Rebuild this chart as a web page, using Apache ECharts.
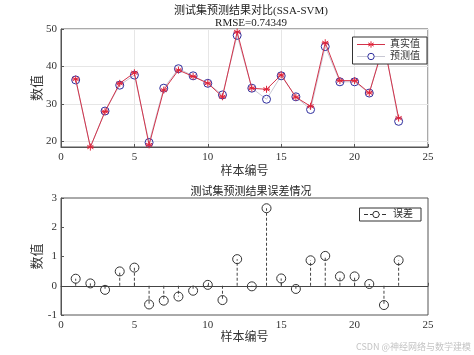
<!DOCTYPE html>
<html>
<head>
<meta charset="utf-8">
<script src="https://cdn.jsdelivr.net/npm/echarts@6/dist/echarts.min.js"></script>
<style>
  html, body { margin: 0; padding: 0; background: #fff; }
  #main { width: 474px; height: 355px; }
</style>
</head>
<body>
<div id="main"></div>
<script>
// 样本编号
var samples = [1, 2, 3, 4, 5, 6, 7, 8, 9, 10, 11, 12, 13, 14, 15, 16, 17, 18, 19, 20, 21, 22, 23]
// 真实值
var actual = [36.64, 18.48, 27.96, 35.49, 38.32, 19.06, 33.69, 39.03, 37.33, 35.53, 31.91, 49.21,
  34.18, 33.9, 37.75, 31.79, 29.37, 46.32, 36.22, 36.22, 32.96, 45.9, 26.22]
// 预测值
var predicted = [36.4, 18.4, 28.1, 35.0, 37.7, 19.7, 34.2, 39.4, 37.5, 35.5, 32.4, 48.3,
  34.2, 31.25, 37.5, 31.9, 28.5, 45.3, 35.9, 35.9, 32.9, 46.56, 25.35]
// 误差
var errors = [0.24, 0.08, -0.14, 0.49, 0.62, -0.64, -0.51, -0.37, -0.17, 0.03, -0.49, 0.91,
  -0.02, 2.65, 0.25, -0.11, 0.87, 1.02, 0.32, 0.32, 0.06, -0.66, 0.87]
var topYTicks = [20, 30, 40, 50]

var fontFamily = '"Liberation Serif", "Noto Sans CJK SC", serif'
var axisColor = '#555'

function pairs(vals) {
  return samples.map(function(s, i) { return [s, vals[i]] })
}

// 星号标记
var asterisk = 'path://M0,-10L0,10M-8.66,-5L8.66,5M-8.66,5L8.66,-5M-10,0L10,0'

function xAxisOf(idx) {
  return {
    type: 'value',
    gridIndex: idx,
    min: 0,
    max: 25,
    interval: 5,
    name: '样本编号',
    nameLocation: 'middle',
    nameGap: idx === 0 ? 19 : 17,
    nameTextStyle: { fontSize: 12, color: '#333', fontFamily: fontFamily },
    axisLine: { lineStyle: { color: axisColor } },
    axisTick: { inside: true, length: 3, lineStyle: { color: axisColor } },
    axisLabel: { fontSize: 11, color: '#333', margin: 5, fontFamily: fontFamily },
    splitLine: { show: idx === 0, lineStyle: { color: '#e6e6e6' } }
  }
}

function yNameStyle() {
  return { fontSize: 13, color: '#333', fontFamily: fontFamily }
}

var legendText = { fontSize: 10, lineHeight: 11, color: '#333', fontFamily: fontFamily }

var chart = echarts.init(document.getElementById('main'))
var option = {
  animation: false,
  backgroundColor: '#fff',
  textStyle: { fontFamily: fontFamily },
  title: [
    {
      text: '测试集预测结果对比(SSA-SVM)\nRMSE=0.74349',
      left: 246,
      textAlign: 'center',
      top: 0,
      textStyle: { fontSize: 11, fontWeight: 'normal', color: '#222', lineHeight: 12, fontFamily: fontFamily }
    },
    {
      text: '测试集预测结果误差情况',
      left: 246,
      textAlign: 'center',
      top: 182,
      textStyle: { fontSize: 11, fontWeight: 'normal', color: '#222', fontFamily: fontFamily }
    }
  ],
  legend: [
    {
      data: [
        { name: '真实值', itemStyle: { color: '#fff', borderColor: '#e0243a', borderWidth: 1 }, lineStyle: { width: 1, color: '#d2334a' } },
        { name: '预测值', itemStyle: { color: '#fff', borderColor: '#2e2e9e', borderWidth: 1 }, lineStyle: { width: 1, color: '#c8c8d4' } }
      ],
      orient: 'vertical',
      right: 47,
      top: 37,
      itemGap: 1,
      itemWidth: 28,
      itemHeight: 8,
      padding: [2, 7, 2, 4],
      borderColor: '#333',
      borderWidth: 1,
      borderRadius: 0,
      backgroundColor: '#fff',
      textStyle: legendText
    },
    {
      data: [{ name: '误差', itemStyle: { color: '#fff', borderColor: '#333', borderWidth: 1 }, lineStyle: { opacity: 1, type: 'dashed', color: '#333', width: 1 } }],
      right: 53,
      top: 208,
      itemWidth: 24,
      itemHeight: 8,
      padding: [1, 8, 1, 4],
      borderColor: '#333',
      borderWidth: 1,
      borderRadius: 0,
      backgroundColor: '#fff',
      textStyle: legendText
    }
  ],
  grid: [
    { left: 61, right: 46, top: 29, height: 118, show: true, borderColor: axisColor, borderWidth: 1 },
    { left: 61, right: 46, top: 198, height: 117, show: true, borderColor: axisColor, borderWidth: 1 }
  ],
  xAxis: [xAxisOf(0), xAxisOf(1)],
  yAxis: [
    {
      type: 'value',
      gridIndex: 0,
      min: 18.5,
      max: 50,
      name: '数值',
      nameLocation: 'middle',
      nameGap: 17,
      nameMoveOverlap: false,
      nameTextStyle: yNameStyle(),
      axisLine: { show: true, lineStyle: { color: axisColor } },
      axisTick: { show: true, inside: true, length: 3, customValues: topYTicks, lineStyle: { color: axisColor } },
      axisLabel: { fontSize: 11, color: '#333', margin: 4, customValues: topYTicks, fontFamily: fontFamily },
      splitLine: { show: true, lineStyle: { color: '#e6e6e6' } }
    },
    {
      type: 'value',
      gridIndex: 1,
      min: -1,
      max: 3,
      interval: 1,
      name: '数值',
      nameLocation: 'middle',
      nameGap: 17,
      nameMoveOverlap: false,
      nameTextStyle: yNameStyle(),
      axisLine: { show: true, lineStyle: { color: axisColor } },
      axisTick: { show: true, inside: true, length: 3, lineStyle: { color: axisColor } },
      axisLabel: { fontSize: 11, color: '#333', margin: 4, fontFamily: fontFamily },
      splitLine: { show: false }
    }
  ],
  series: [
    {
      name: '预测值',
      type: 'line',
      xAxisIndex: 0,
      yAxisIndex: 0,
      data: pairs(predicted),
      symbol: 'circle',
      symbolSize: 8,
      z: 2,
      lineStyle: { color: '#c8c8d4', width: 1 },
      itemStyle: { color: 'rgba(0,0,0,0)', borderColor: '#2e2e9e', borderWidth: 1 }
    },
    {
      name: '真实值',
      type: 'line',
      xAxisIndex: 0,
      yAxisIndex: 0,
      data: pairs(actual),
      symbol: asterisk,
      symbolSize: 7,
      z: 3,
      lineStyle: { color: '#d2334a', width: 1 },
      itemStyle: { color: 'rgba(0,0,0,0)', borderColor: '#e0243a', borderWidth: 1 }
    },
    {
      name: 'stem',
      type: 'custom',
      xAxisIndex: 1,
      yAxisIndex: 1,
      data: pairs(errors),
      renderItem: function(params, api) {
        var p0 = api.coord([api.value(0), 0])
        var p1 = api.coord([api.value(0), api.value(1)])
        return {
          type: 'line',
          shape: { x1: p0[0], y1: p0[1], x2: p1[0], y2: p1[1] },
          style: { stroke: '#444', lineWidth: 1, lineDash: [3, 2] }
        }
      },
      z: 2
    },
    {
      name: '误差',
      type: 'line',
      xAxisIndex: 1,
      yAxisIndex: 1,
      data: pairs(errors),
      symbol: 'circle',
      symbolSize: 9,
      z: 3,
      lineStyle: { opacity: 0 },
      itemStyle: { color: 'rgba(0,0,0,0)', borderColor: '#333', borderWidth: 1 },
      markLine: {
        silent: true,
        symbol: 'none',
        label: { show: false },
        lineStyle: { color: '#444', type: 'solid', width: 1 },
        data: [{ yAxis: 0 }]
      }
    }
  ],
  graphic: [
    {
      type: 'text',
      right: 3,
      bottom: 4,
      style: { text: 'CSDN @神经网络与数学建模', fill: '#c4c4c4', font: '9px "Noto Sans CJK SC", sans-serif' }
    }
  ]
}
chart.setOption(option)
</script>
</body>
</html>
